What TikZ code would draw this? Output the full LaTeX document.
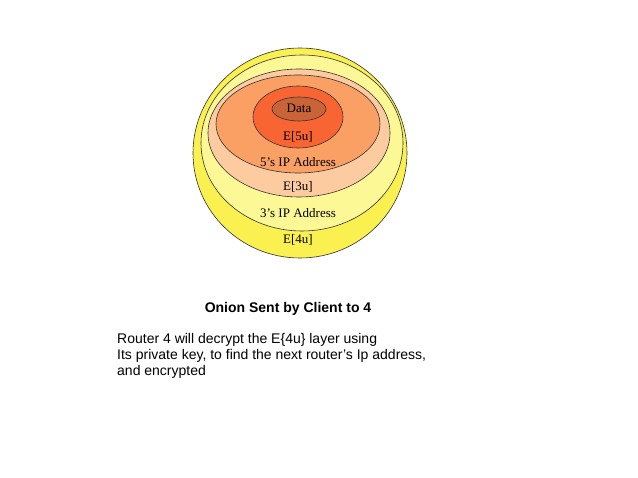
\documentclass[tikz,border=0pt]{standalone}
\usepackage{fontspec}
\setmainfont{Liberation Serif}
\newfontfamily\arialf{Liberation Sans}
\begin{document}
\begin{tikzpicture}[x=1pt,y=-1pt,
  layer/.style={draw=black!80,line width=0.6pt},
  lbl/.style={font=\fontsize{13}{13}\selectfont,inner sep=0pt},
  body/.style={font=\arialf\fontsize{14}{16}\selectfont,inner sep=0pt,anchor=west}]
\useasboundingbox (0,0) rectangle (638,478);
\fill[layer,fill={rgb,255:red,250;green,240;blue,80}] (300,153) ellipse (107 and 105);
\fill[layer,fill={rgb,255:red,252;green,248;blue,150}] (302,143) ellipse (101 and 88);
\fill[layer,fill={rgb,255:red,252;green,204;blue,160}] (299,133) ellipse (91 and 64);
\fill[layer,fill={rgb,255:red,250;green,160;blue,100}] (298,124) ellipse (82 and 49);
\fill[layer,fill={rgb,255:red,248;green,100;blue,50}] (298,117) ellipse (45 and 31);
\fill[layer,fill={rgb,255:red,200;green,100;blue,55}] (299,109) ellipse (27 and 12);
\node[lbl] (d) at (299,108) {Data};
\node[lbl] (e5) at (298,137) {E[5u]};
\node[lbl] (ip5) at (298,162) {5's IP Address};
\node[lbl] (e3) at (298,187) {E[3u]};
\node[lbl] (ip3) at (298,213) {3's IP Address};
\node[lbl] (e4) at (298,240) {E[4u]};
\node[font=\arialf\bfseries\fontsize{14}{16}\selectfont,inner sep=0pt] (t) at (288,309) {Onion Sent by Client to 4};
\node[body] (l1) at (117,340) {Router 4 will decrypt the E\{4u\} layer using};
\node[body] (l2) at (117,356) {Its private key, to find the next router’s Ip address,};
\node[body] (l3) at (117,372) {and encrypted};
\end{tikzpicture}
\end{document}
